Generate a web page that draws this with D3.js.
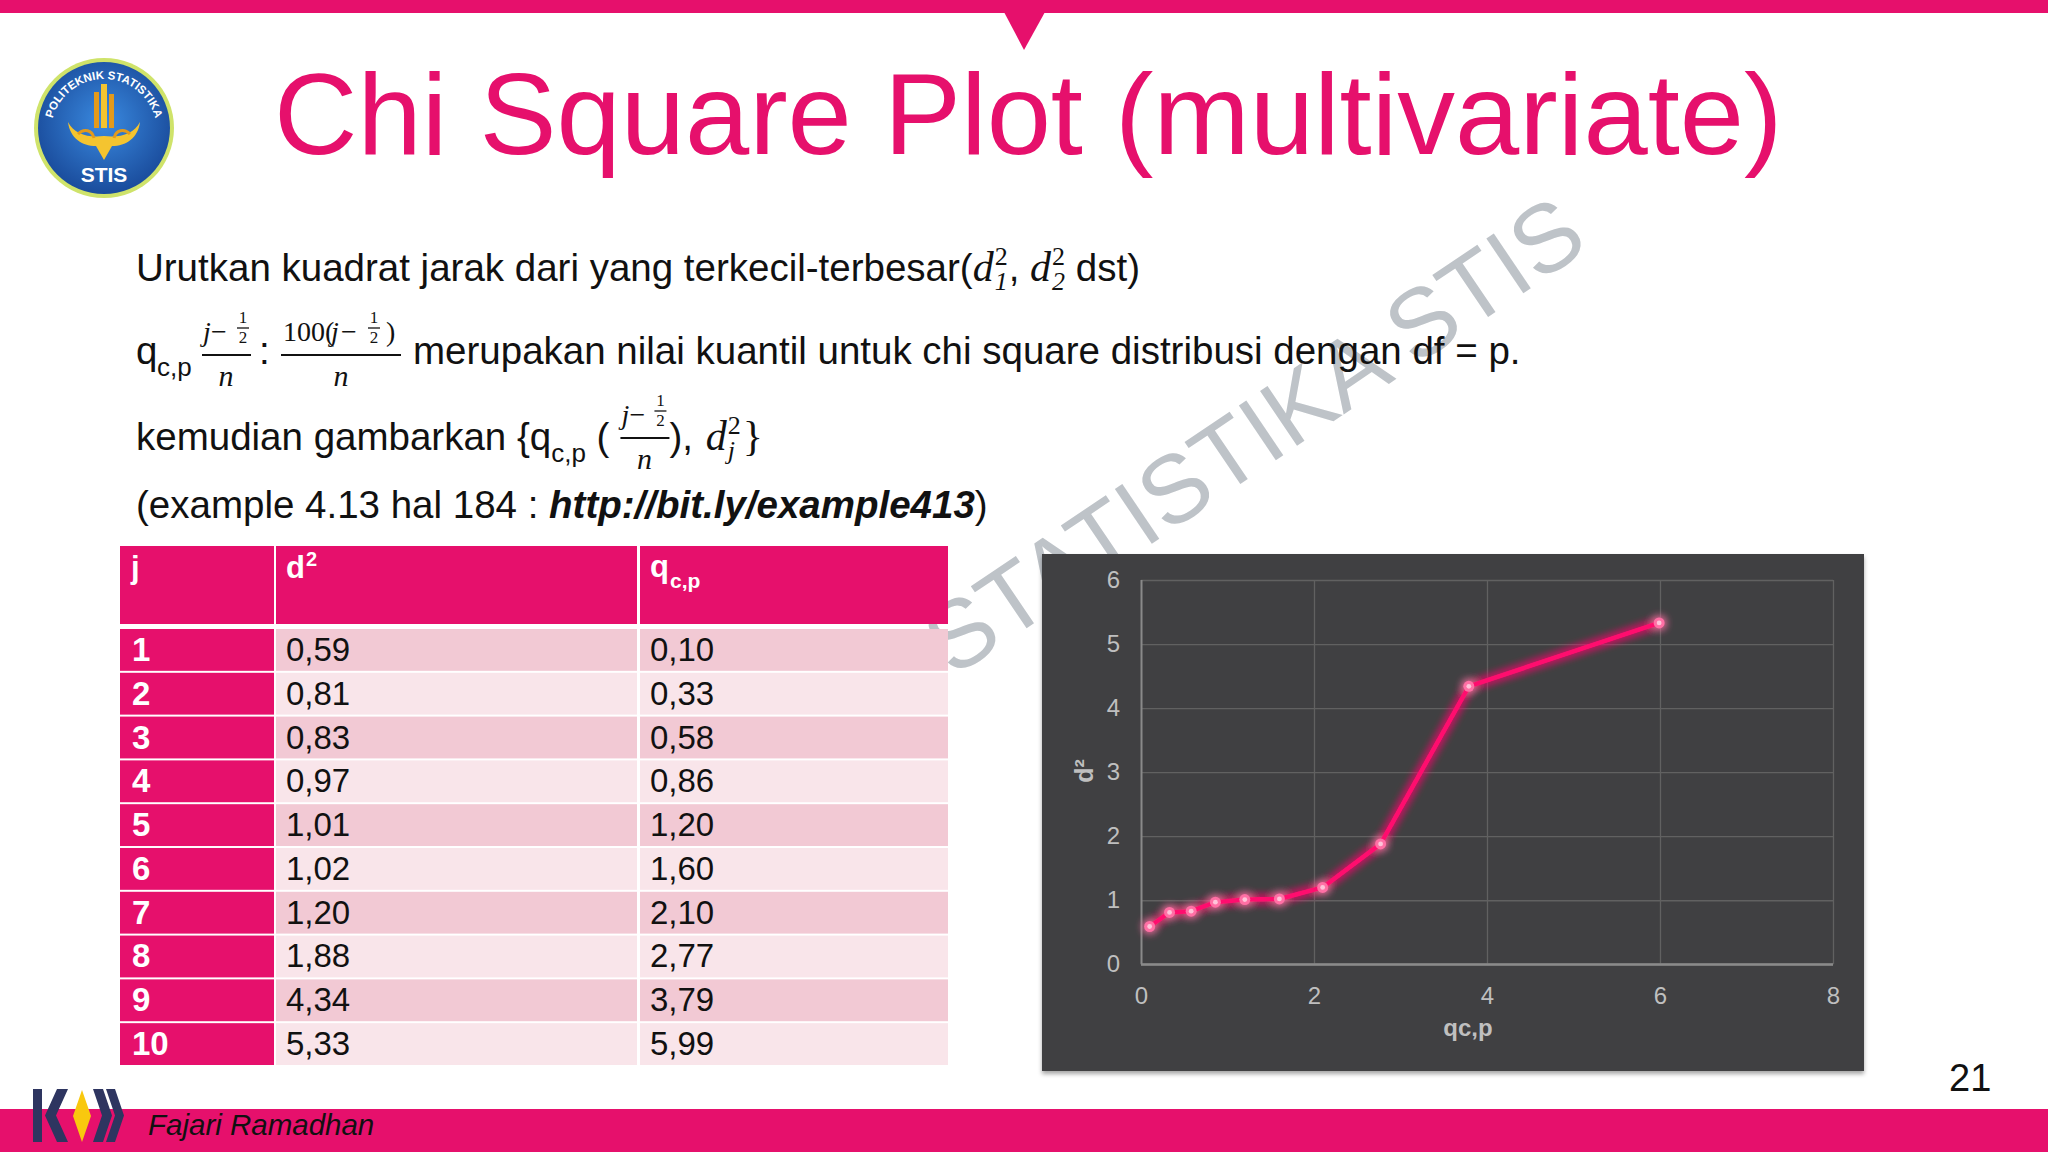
<!DOCTYPE html>
<html><head><meta charset="utf-8">
<script src="https://cdn.jsdelivr.net/npm/d3@7"></script>
<style>html,body{margin:0;padding:0;background:#fff;overflow:hidden} svg{display:block}</style>
</head><body>
<svg id="s" width="2048" height="1152"></svg>
<script>
// ---------- data ----------
const jVals   = [1,2,3,4,5,6,7,8,9,10];
const d2Vals  = [0.59,0.81,0.83,0.97,1.01,1.02,1.20,1.88,4.34,5.33];
const qcpVals = [0.10,0.33,0.58,0.86,1.20,1.60,2.10,2.77,3.79,5.99];
const xTicks  = [0,2,4,6,8];
const yTicks  = [0,1,2,3,4,5,6];
const titleText = "Chi Square Plot (multivariate)";
const xTitle = "qc,p";
const yTitle = "d²";

// ---------- setup ----------
const PINK = "#E6106C";
const SANS = "'Liberation Sans', Arial, sans-serif";
const SERIF = "'Liberation Serif', 'DejaVu Serif', serif";
const svg = d3.select("#s");
const defs = svg.append("defs");

const glow = defs.append("filter").attr("id","glow").attr("x","-20%").attr("y","-20%").attr("width","140%").attr("height","140%");
glow.append("feGaussianBlur").attr("in","SourceGraphic").attr("stdDeviation",5).attr("result","b");
const gm = glow.append("feMerge");
gm.append("feMergeNode").attr("in","b");
gm.append("feMergeNode").attr("in","b");
gm.append("feMergeNode").attr("in","SourceGraphic");

const shadow = defs.append("filter").attr("id","shadow").attr("x","-5%").attr("y","-5%").attr("width","110%").attr("height","112%");
shadow.append("feDropShadow").attr("dx",0).attr("dy",3).attr("stdDeviation",2).attr("flood-color","#000").attr("flood-opacity",0.35);

const rg = defs.append("radialGradient").attr("id","logoBlue").attr("cx","50%").attr("cy","45%").attr("r","55%");
rg.append("stop").attr("offset","0%").attr("stop-color","#3A8AE0");
rg.append("stop").attr("offset","100%").attr("stop-color","#1A4C9C");

// ---------- frame ----------
svg.append("rect").attr("x",0).attr("y",0).attr("width",2048).attr("height",13).attr("fill",PINK);
svg.append("path").attr("d","M1004,12 L1045,12 L1024,50 Z").attr("fill",PINK);
svg.append("rect").attr("x",0).attr("y",1109).attr("width",2048).attr("height",43).attr("fill",PINK);

// ---------- watermark ----------
svg.append("text").attr("transform","translate(953,678) rotate(-34)")
  .attr("font-family",SANS).attr("font-size",96).attr("fill","#BEC3C8").text("STATISTIKA STIS");

// ---------- logo ----------
const lg = svg.append("g").attr("transform","translate(104,128)");
lg.append("circle").attr("r",70).attr("fill","#CFE36A");
lg.append("circle").attr("r",66).attr("fill","url(#logoBlue)");
defs.append("path").attr("id","arcP").attr("d","M-53,4 A53,53 0 0 1 53,4");
lg.append("text").attr("font-family",SANS).attr("font-weight","bold").attr("font-size",11.5).attr("fill","#fff")
  .append("textPath").attr("href","#arcP").attr("startOffset","50%").attr("text-anchor","middle").text("POLITEKNIK STATISTIKA");
const Y1="#F4C430", Y2="#E39A1B";
lg.append("rect").attr("x",-10).attr("y",-36).attr("width",5).attr("height",36).attr("fill",Y2);
lg.append("rect").attr("x",-3).attr("y",-44).attr("width",6).attr("height",44).attr("fill",Y1);
lg.append("rect").attr("x",5).attr("y",-34).attr("width",5).attr("height",34).attr("fill",Y2);
lg.append("path").attr("d","M-36,-6 C-30,6 -16,10 0,8 C16,10 30,6 36,-6 C34,10 22,18 8,18 L0,32 L-8,18 C-22,18 -34,10 -36,-6 Z").attr("fill",Y1);
lg.append("path").attr("d","M-26,6 C-20,0 -12,2 -10,10 M26,6 C20,0 12,2 10,10").attr("stroke",Y2).attr("stroke-width",3).attr("fill","none");
lg.append("text").attr("x",0).attr("y",54).attr("text-anchor","middle").attr("font-family",SANS).attr("font-weight","bold").attr("font-size",21).attr("fill","#fff").text("STIS");

// ---------- title ----------
svg.append("text").attr("x",274).attr("y",154).attr("font-family",SANS).attr("font-size",115.5).attr("fill",PINK).text(titleText);

// ---------- body text helpers ----------
const TXT = "#111";
const FS = 38.5;
function put(x,y,t,opt={}){
  const el = svg.append("text").attr("x",x).attr("y",y)
    .attr("font-family",opt.family||SANS).attr("font-size",opt.size||FS)
    .attr("font-style",opt.style||"normal").attr("font-weight",opt.weight||"normal")
    .attr("fill",opt.fill||TXT).attr("text-anchor",opt.anchor||"start")
    .style("white-space","pre").text(t);
  return x + el.node().getComputedTextLength();
}
function supSub(x,y,sup,sub){
  const a = put(x+1,y-16,sup,{family:SERIF,size:26});
  const b = put(x+1,y+9,sub,{family:SERIF,size:26,style:"italic"});
  return Math.max(a,b);
}
function half(cx,barY){
  put(cx,barY-5,"1",{family:SERIF,size:17,anchor:"middle"});
  svg.append("line").attr("x1",cx-6).attr("x2",cx+6).attr("y1",barY).attr("y2",barY).attr("stroke",TXT).attr("stroke-width",1.3);
  put(cx,barY+15,"2",{family:SERIF,size:17,anchor:"middle"});
}

// line 1
let x = put(136,281,"Urutkan kuadrat jarak dari yang terkecil-terbesar(");
x = put(x,281,"d",{family:SERIF,size:42,style:"italic"});
x = supSub(x,281,"2","1");
x = put(x+1,281,", ");
x = put(x,281,"d",{family:SERIF,size:42,style:"italic"});
x = supSub(x,281,"2","2");
put(x,281," dst)");

// line 2
put(136,364,"q");
put(157,376,"c,p",{size:26});
// fraction A
put(203,341,"j",{family:SERIF,size:28,style:"italic"});
put(211,341,"\u2212",{family:SERIF,size:28});
half(243,328);
svg.append("line").attr("x1",202).attr("x2",251).attr("y1",355).attr("y2",355).attr("stroke",TXT).attr("stroke-width",2);
put(226,386,"n",{family:SERIF,size:30,style:"italic",anchor:"middle"});
put(259,364,":");
// fraction B
put(283,341,"100(",{family:SERIF,size:28});
put(331,341,"j",{family:SERIF,size:28,style:"italic"});
put(341,341,"\u2212",{family:SERIF,size:28});
half(374,328);
put(386,341,")",{family:SERIF,size:28});
svg.append("line").attr("x1",281).attr("x2",401).attr("y1",355).attr("y2",355).attr("stroke",TXT).attr("stroke-width",2);
put(341,386,"n",{family:SERIF,size:30,style:"italic",anchor:"middle"});
put(413,364,"merupakan nilai kuantil untuk chi square distribusi dengan df = p.");

// line 3
x = put(136,450,"kemudian gambarkan {q");
x = put(x,462,"c,p",{size:26});
x = put(x,450," (");
const fb = x + 11;
put(fb+1,424,"j",{family:SERIF,size:28,style:"italic"});
put(fb+9,424,"\u2212",{family:SERIF,size:28});
half(fb+40,411);
svg.append("line").attr("x1",fb).attr("x2",fb+49).attr("y1",438).attr("y2",438).attr("stroke",TXT).attr("stroke-width",2);
put(fb+24,469,"n",{family:SERIF,size:30,style:"italic",anchor:"middle"});
x = put(fb+49,450,"), ");
x = put(x+2,450,"d",{family:SERIF,size:42,style:"italic"});
x = supSub(x,450,"2","j");
put(x+2,450,"}",{family:SERIF,size:42});

// line 4
x = put(136,518,"(example 4.13 hal 184 : ");
x = put(x,518,"http://bit.ly/example413",{weight:"bold",style:"italic"});
put(x,518,")");

// ---------- table ----------
const colX = [120,276,640], colW = [154,361,308];
const tbl = svg.append("g");
colX.forEach((cx,i)=>tbl.append("rect").attr("x",cx).attr("y",546).attr("width",colW[i]).attr("height",78).attr("fill",PINK));
// headers
tbl.append("text").attr("x",131).attr("y",578).attr("font-family",SANS).attr("font-weight","bold").attr("font-size",31).attr("fill","#fff").text("j");
tbl.append("text").attr("x",286).attr("y",578).attr("font-family",SANS).attr("font-weight","bold").attr("font-size",31).attr("fill","#fff").text("d");
tbl.append("text").attr("x",306).attr("y",566).attr("font-family",SANS).attr("font-weight","bold").attr("font-size",20).attr("fill","#fff").text("2");
tbl.append("text").attr("x",650).attr("y",577).attr("font-family",SANS).attr("font-weight","bold").attr("font-size",31).attr("fill","#fff").text("q");
tbl.append("text").attr("x",670).attr("y",588).attr("font-family",SANS).attr("font-weight","bold").attr("font-size",21).attr("fill","#fff").text("c,p");

const rowY = d3.scaleBand().domain(jVals).range([629,1065]).paddingInner(0.045);
const fmt = v => d3.format(".2f")(v).replace(".",",");
jVals.forEach((j,i)=>{
  const y = rowY(j), h = rowY.bandwidth();
  const fill = i%2===0 ? "#F2C9D4" : "#F9E5EA";
  tbl.append("rect").attr("x",colX[0]).attr("y",y).attr("width",colW[0]).attr("height",h).attr("fill",PINK);
  tbl.append("rect").attr("x",colX[1]).attr("y",y).attr("width",colW[1]).attr("height",h).attr("fill",fill);
  tbl.append("rect").attr("x",colX[2]).attr("y",y).attr("width",colW[2]).attr("height",h).attr("fill",fill);
  const by = y + h/2 + 11;
  tbl.append("text").attr("x",132).attr("y",by).attr("font-family",SANS).attr("font-weight","bold").attr("font-size",33).attr("fill","#fff").text(j);
  tbl.append("text").attr("x",286).attr("y",by).attr("font-family",SANS).attr("font-size",33).attr("fill","#111").text(fmt(d2Vals[i]));
  tbl.append("text").attr("x",650).attr("y",by).attr("font-family",SANS).attr("font-size",33).attr("fill","#111").text(fmt(qcpVals[i]));
});

// ---------- chart ----------
svg.append("rect").attr("x",1042).attr("y",554).attr("width",822).attr("height",517).attr("fill","#414042").attr("filter","url(#shadow)");
const xs = d3.scaleLinear().domain([0,8]).range([1141,1833]);
const ys = d3.scaleLinear().domain([0,6]).range([964.3,580]);
const GRID = "#616161", AX = "#8A8A8A", LBL = "#BFBFBF";

const gy = svg.append("g").attr("transform",`translate(${xs(0)},0)`)
  .call(d3.axisLeft(ys).tickValues(yTicks).tickSize(-(xs(8)-xs(0))).tickPadding(21).tickFormat(d3.format("d")));
gy.select(".domain").remove();
gy.selectAll(".tick line").attr("stroke",d=>d===0?AX:GRID).attr("stroke-width",d=>d===0?2:1.3);
gy.selectAll(".tick text").attr("fill",LBL).attr("font-family",SANS).attr("font-size",24);

const gx = svg.append("g").attr("transform",`translate(0,${ys(0)})`)
  .call(d3.axisBottom(xs).tickValues(xTicks).tickSize(-(ys(0)-ys(6))).tickPadding(23).tickFormat(d3.format("d")));
gx.select(".domain").remove();
gx.selectAll(".tick line").attr("stroke",d=>d===0?AX:GRID).attr("stroke-width",d=>d===0?2:1.3);
gx.selectAll(".tick text").attr("fill",LBL).attr("font-family",SANS).attr("font-size",24);
svg.append("line").attr("x1",xs(0)).attr("x2",xs(8)).attr("y1",ys(0)).attr("y2",ys(0)).attr("stroke",AX).attr("stroke-width",2);

svg.append("text").attr("x",1468).attr("y",1036).attr("text-anchor","middle").attr("font-family",SANS).attr("font-weight","bold").attr("font-size",24).attr("fill",LBL).text(xTitle);
svg.append("text").attr("transform","translate(1093,771) rotate(-90)").attr("text-anchor","middle").attr("font-family",SANS).attr("font-weight","bold").attr("font-size",25).attr("fill",LBL).text(yTitle);

const pts = qcpVals.map((q,i)=>[q,d2Vals[i]]);
const line = d3.line().x(d=>xs(d[0])).y(d=>ys(d[1]));
const sg = svg.append("g").attr("filter","url(#glow)");
sg.append("path").attr("d",line(pts)).attr("fill","none").attr("stroke","#FF0F6E").attr("stroke-width",4.5).attr("stroke-linejoin","round");
sg.selectAll("circle.m").data(pts).enter().append("circle").attr("class","m")
  .attr("cx",d=>xs(d[0])).attr("cy",d=>ys(d[1])).attr("r",5.5).attr("fill","#FF6FA5");
svg.selectAll("circle.c").data(pts).enter().append("circle").attr("class","c")
  .attr("cx",d=>xs(d[0])).attr("cy",d=>ys(d[1])).attr("r",2.4).attr("fill","#FFC4DA");

// ---------- footer ----------
put(1949,1091,"21",{size:38});
const NAVY = "#2E3560";
const fl = svg.append("g");
fl.append("rect").attr("x",33).attr("y",1089).attr("width",9).attr("height",53).attr("fill",NAVY);
fl.append("path").attr("d","M57,1089 L68,1089 L56,1115.5 L68,1142 L57,1142 L45,1115.5 Z").attr("fill",NAVY);
fl.append("path").attr("d","M82,1090 L91,1116 L82,1142 L73,1116 Z").attr("fill","#F9C80E");
fl.append("path").attr("d","M93,1089 L103,1089 L112,1115.5 L103,1142 L93,1142 L102,1115.5 Z").attr("fill",NAVY);
fl.append("path").attr("d","M106,1089 L115,1089 L124,1115.5 L115,1142 L106,1142 L115,1115.5 Z").attr("fill",NAVY);
put(148,1135,"Fajari Ramadhan",{size:29.5,style:"italic"});
</script>
</body></html>
